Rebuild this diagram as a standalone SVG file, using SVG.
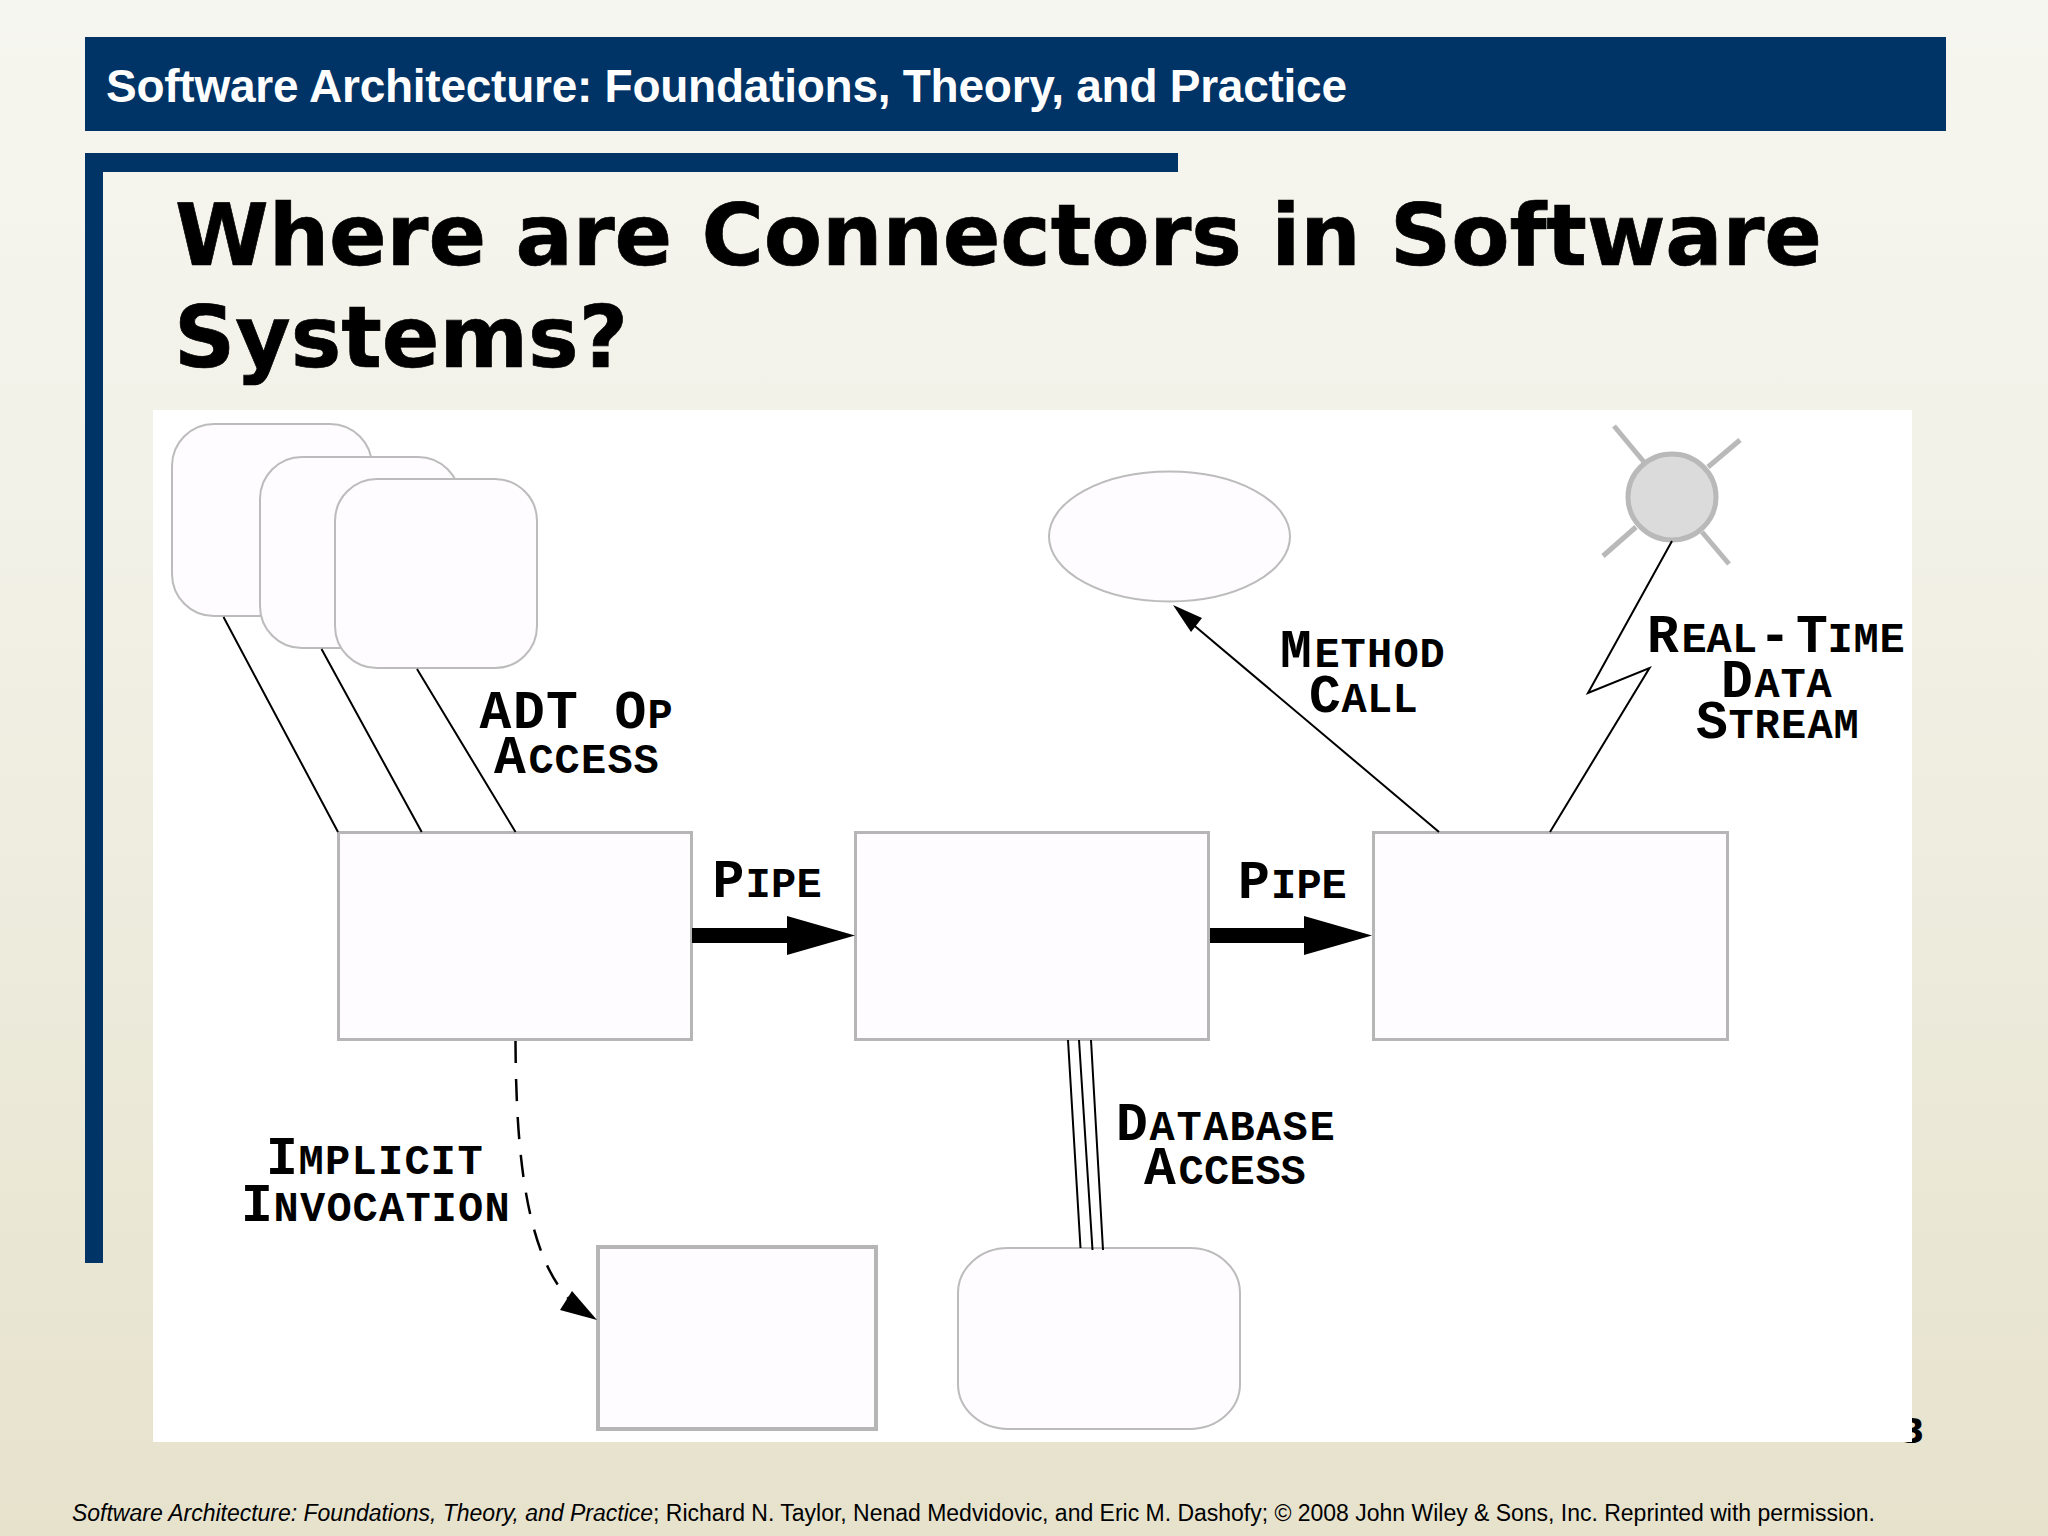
<svg xmlns="http://www.w3.org/2000/svg" width="2048" height="1536" viewBox="0 0 2048 1536">
<style>
.n{fill:#fefcfe;stroke:#b6b6b6;stroke-width:3}
.r{fill:#fefcfe;stroke:#bcbcbc;stroke-width:2}
.c{fill:none;stroke:#000;stroke-width:2}
.ray{stroke:#b9b9b9;stroke-width:5}
.l{font-family:"Liberation Mono",monospace;font-weight:700;fill:#000;font-size:42px;text-anchor:middle}
.l .b{font-size:53px}
</style>
<defs><linearGradient id="bg" x1="0" y1="0" x2="0" y2="1"><stop offset="0" stop-color="#f6f6f0"/><stop offset="0.35" stop-color="#f2f1e7"/><stop offset="1" stop-color="#e6e2cc"/></linearGradient></defs>
<rect width="2048" height="1536" fill="url(#bg)"/>
<rect x="85" y="37" width="1861" height="94" fill="#003366"/>
<rect x="85" y="153" width="1093" height="19" fill="#003366"/>
<rect x="85" y="153" width="18" height="1110" fill="#003366"/>
<text x="106" y="102" font-family="Liberation Sans,sans-serif" font-weight="700" font-size="46" fill="#fff" textLength="1241">Software Architecture: Foundations, Theory, and Practice</text>
<text x="175" y="265" font-family="DejaVu Sans,sans-serif" font-weight="700" font-size="85" fill="#000" stroke="#000" stroke-width="0.7" textLength="1647">Where are Connectors in Software</text>
<text x="174" y="367" font-family="DejaVu Sans,sans-serif" font-weight="700" font-size="85" fill="#000" stroke="#000" stroke-width="0.7">Systems?</text>
<text x="1901" y="1443" font-family="DejaVu Sans,sans-serif" font-weight="700" font-size="34" fill="#000">3</text>
<rect x="153" y="410" width="1759" height="1032" fill="#fff"/>
<text x="72" y="1521" font-family="Liberation Sans,sans-serif" font-size="23" fill="#000" textLength="1803"><tspan font-style="italic">Software Architecture: Foundations, Theory, and Practice</tspan>; Richard N. Taylor, Nenad Medvidovic, and Eric M. Dashofy; © 2008 John Wiley &amp; Sons, Inc. Reprinted with permission.</text>
<g id="adt1"><rect class="r" x="172" y="424" width="200" height="192" rx="42"/></g>
<g id="adt2"><rect class="r" x="260" y="457" width="200" height="191" rx="42"/></g>
<g id="adt3"><rect class="r" x="335" y="479" width="202" height="189" rx="42"/></g>
<g id="obj"><ellipse class="r" cx="1169.500" cy="536.500" rx="120.500" ry="65"/></g>
<g id="sun"><ellipse cx="1672" cy="497" rx="44" ry="43" fill="#dcdbdc" stroke="#b9b9b9" stroke-width="5"/>
<line class="ray" x1="1614" y1="426" x2="1644" y2="462"/><line class="ray" x1="1740" y1="440" x2="1708" y2="467"/><line class="ray" x1="1603" y1="556" x2="1636" y2="527"/><line class="ray" x1="1729" y1="564" x2="1702" y2="532"/></g>
<g id="box1"><rect class="n" x="338.500" y="832.500" width="353" height="207"/></g>
<g id="box2"><rect class="n" x="855.500" y="832.500" width="353" height="207"/></g>
<g id="box3"><rect class="n" x="1373.500" y="832.500" width="354" height="207"/></g>
<g id="box4"><rect class="n" style="stroke-width:4" x="598" y="1247" width="278" height="182"/></g>
<g id="db"><rect class="r" x="958" y="1248" width="282" height="181" rx="50" ry="45"/></g>
<g id="connectors">
<path class="c" d="M223.500 617L338 832M321.500 649L421.700 832M417 669L515.500 832"/>
<path class="c" d="M1439 832L1190 622"/><path d="M1173 605L1202 618L1191 632Z"/>
<path class="c" d="M1672 541L1588 693L1649.500 668L1550 832"/>
<path d="M692 928H787V916L855 935.500L787 955V943H692Z"/>
<path d="M1210 928H1304V916L1372 935.500L1304 955V943H1210Z"/>
<path class="c" d="M1068 1040L1080.500 1248M1079 1040L1092.500 1250M1091 1040L1103 1250"/>
<path class="c" style="stroke-width:2.500" stroke-dasharray="22 16" d="M515.500 1041C516 1150 525 1260 575 1305"/>
<path d="M597 1320L572 1291L560 1310Z"/>
</g>
<g id="labels">
<text class="l" y="728"><tspan class="b" x="495.500 529 562 596 630.500">ADT O</tspan><tspan x="660">P</tspan></text>
<text class="l" y="773"><tspan class="b" x="510">A</tspan><tspan x="541 567 593.500 620 646">CCESS</tspan></text>
<text class="l" y="897"><tspan class="b" x="728.500">P</tspan><tspan x="758 783.500 809">IPE</tspan></text>
<text class="l" y="898"><tspan class="b" x="1254">P</tspan><tspan x="1283.500 1309 1334">IPE</tspan></text>
<text class="l" y="667"><tspan class="b" x="1296">M</tspan><tspan x="1327 1353 1379.500 1406 1432">ETHOD</tspan></text>
<text class="l" y="712"><tspan class="b" x="1325">C</tspan><tspan x="1354 1379.500 1405">ALL</tspan></text>
<text class="l" y="652"><tspan class="b" x="1663">R</tspan><tspan x="1694 1719 1744.500">EAL</tspan><tspan class="b" x="1775 1812">-T</tspan><tspan x="1840 1866 1892">IME</tspan></text>
<text class="l" y="697"><tspan class="b" x="1737">D</tspan><tspan x="1767 1793 1819">ATA</tspan></text>
<text class="l" y="738"><tspan class="b" x="1712">S</tspan><tspan x="1741 1767 1793.500 1820 1846">TREAM</tspan></text>
<text class="l" y="1174"><tspan class="b" x="282">I</tspan><tspan x="311 337.500 364 390.500 417 443 470">MPLICIT</tspan></text>
<text class="l" y="1221"><tspan class="b" x="257">I</tspan><tspan x="286 312.500 339 365 391.500 418 444 470.500 497">NVOCATION</tspan></text>
<text class="l" y="1140"><tspan class="b" x="1132">D</tspan><tspan x="1162 1189 1215.500 1242 1268.500 1295 1322">ATABASE</tspan></text>
<text class="l" y="1184"><tspan class="b" x="1160">A</tspan><tspan x="1191 1216.500 1242 1268 1293">CCESS</tspan></text>
</g>
</svg>
